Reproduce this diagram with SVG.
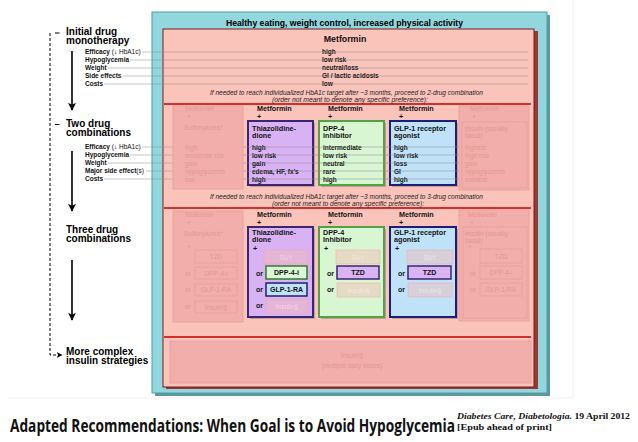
<svg xmlns="http://www.w3.org/2000/svg" width="638" height="442" viewBox="0 0 638 442">
<defs>
<marker id="ah" viewBox="0 0 10 10" refX="9" refY="5" markerWidth="8" markerHeight="8" orient="auto" markerUnits="userSpaceOnUse">
<path d="M0,0 L10,5 L0,10 L2.5,5 z" fill="#000"/>
</marker>
<marker id="ahs" viewBox="0 0 10 10" refX="9" refY="5" markerWidth="6" markerHeight="6" orient="auto" markerUnits="userSpaceOnUse">
<path d="M0,0 L10,5 L0,10 L2.5,5 z" fill="#000"/>
</marker>
</defs>
<style>
text{font-family:"Liberation Sans",Arial,sans-serif;}
text.cap{font-family:"Open Sans","Liberation Sans",sans-serif;font-weight:700;font-size:17px;fill:#111}
text.cite{font-family:"Liberation Serif","Times New Roman",serif;font-weight:bold;font-size:9px;fill:#111}
.h{font-weight:bold;font-size:10px;fill:#000}
.lab{font-size:6.5px;font-weight:bold;fill:#111}
.n{font-weight:normal}
.v{font-size:6.5px;font-weight:bold;fill:#111}
.t{font-size:7.2px;font-weight:bold;fill:#111}
.sb{font-size:7px;font-weight:bold;fill:#111}
.it{font-size:6.3px;font-style:italic;fill:#222}
.ft{font-size:6.5px;fill:#e39793}
.fbox{fill:#f2aeaa;stroke:#e9a19e;stroke-width:1}
.fin{fill:none;stroke:#e9a19e;stroke-width:1}
.fs{fill:#f5b8b4;fill-opacity:.45;stroke:#f0a8a8;stroke-opacity:.5}
.fst{font-size:6.5px;fill:#ffffff;fill-opacity:.45;text-anchor:middle}
.gl{stroke:#8a8a8a;stroke-width:0.5;fill:none}
.sep{stroke:#c00000;stroke-width:1.5}
.sh{fill:#8a6b6b;opacity:.45}
.tzd{fill:#d9b2f3;stroke:#3b2470}
.dpp{fill:#d9f6d2;stroke:#4ea443}
.glp{fill:#bfe2f9;stroke:#1c1f7a}
.c{text-anchor:middle}
</style>

<rect x="0" y="0" width="638" height="442" fill="#ffffff"/>
<path d="M573,0 V398 H8" fill="none" stroke="#f1f1f1" stroke-width="1"/>

<!-- frames -->
<g id="frame-outer">
<rect x="155" y="15" width="395" height="381" fill="#5c989e"/>
<rect x="152" y="12" width="395" height="381" fill="#91d7dd" stroke="#4f9ea5" stroke-width="1"/>
<text x="226" y="26" font-size="8.6" font-weight="bold" fill="#000" textLength="237" lengthAdjust="spacingAndGlyphs">Healthy eating, weight control, increased physical activity</text>
</g>
<g id="frame-inner">
<rect x="166" y="31" width="372" height="358" fill="#9a3833"/>
<rect x="163" y="29" width="371" height="358" fill="#fbc4bb" stroke="#7a1d1d" stroke-width="1"/>
<line class="sep" x1="164" y1="104" x2="531" y2="104"/>
<line class="sep" x1="164" y1="208" x2="531" y2="208"/>
<line class="sep" x1="164" y1="337" x2="531" y2="337"/>
</g>

<!-- left stage labels -->
<g id="stage1">
<text class="h" x="66" y="35.3">Initial drug</text>
<text class="h" x="66" y="44.3">monotherapy</text>
<text class="lab" x="85" y="54">Efficacy <tspan class="n">(↓ HbA1c)</tspan></text>
<text class="lab" x="85" y="62">Hypoglycemia</text>
<text class="lab" x="85" y="70">Weight</text>
<text class="lab" x="85" y="78">Side effects</text>
<text class="lab" x="85" y="86">Costs</text>
</g>
<g id="stage2">
<text class="h" x="66" y="126.7">Two drug</text>
<text class="h" x="66" y="135.7">combinations</text>
<text class="lab" x="85" y="149">Efficacy <tspan class="n">(↓ HbA1c)</tspan></text>
<text class="lab" x="85" y="157">Hypoglycemia</text>
<text class="lab" x="85" y="165">Weight</text>
<text class="lab" x="85" y="173">Major side effect<tspan class="n">(s)</tspan></text>
<text class="lab" x="85" y="181">Costs</text>
</g>
<g id="stage3">
<text class="h" x="66" y="233">Three drug</text>
<text class="h" x="66" y="242">combinations</text>
</g>
<g id="stage4">
<text class="h" x="66" y="355" font-size="9.5">More complex</text>
<text class="h" x="66" y="364" font-size="9.5">insulin strategies</text>
</g>

<!-- monotherapy -->
<g id="metformin-mono">
<text x="345" y="42" class="c" font-size="8.8" font-weight="bold" fill="#111">Metformin</text>
<text class="v" x="322" y="54">high</text>
<text class="v" x="322" y="62">low risk</text>
<text class="v" x="322" y="70">neutral/loss</text>
<text class="v" x="322" y="78">GI / lactic acidosis</text>
<text class="v" x="322" y="86">low</text>
</g>
<g id="note1">
<text class="it" x="210" y="94.5" textLength="273" lengthAdjust="spacingAndGlyphs">If needed to reach individualized HbA1c target after ~3 months, proceed to 2-drug combination</text>
<text class="it" x="272" y="101.5" textLength="156" lengthAdjust="spacingAndGlyphs">(order not meant to denote any specific preference):</text>
</g>

<!-- two drug colored -->
<g id="tzd2">
<text class="t" x="257" y="111">Metformin</text>
<text class="t" x="257" y="118.5">+</text>
<rect class="sh" x="250" y="123" width="65" height="64"/>
<rect class="tzd" x="248" y="121" width="65" height="64" stroke-width="2"/>
<text class="t" x="252" y="130.5">Thiazolidine-</text>
<text class="t" x="252" y="138">dione</text>
<text class="v" x="252" y="149.5">high</text>
<text class="v" x="252" y="157.5">low risk</text>
<text class="v" x="252" y="165.5">gain</text>
<text class="v" x="252" y="173.5">edema, HF, fx’s</text>
<text class="v" x="252" y="181.5">high</text>
</g>
<g id="dpp2">
<text class="t" x="328" y="111">Metformin</text>
<text class="t" x="328" y="118.5">+</text>
<rect class="sh" x="321" y="123" width="65" height="64"/>
<rect class="dpp" x="319" y="121" width="65" height="64" stroke-width="2"/>
<text class="t" x="323" y="130.5">DPP-4</text>
<text class="t" x="323" y="138">inhibitor</text>
<text class="v" x="323" y="149.5">intermediate</text>
<text class="v" x="323" y="157.5">low risk</text>
<text class="v" x="323" y="165.5">neutral</text>
<text class="v" x="323" y="173.5">rare</text>
<text class="v" x="323" y="181.5">high</text>
</g>
<g id="glp2">
<text class="t" x="399" y="111">Metformin</text>
<text class="t" x="399" y="118.5">+</text>
<rect class="sh" x="392" y="123" width="66" height="64"/>
<rect class="glp" x="390" y="121" width="66" height="64" stroke-width="2"/>
<text class="t" x="394" y="130.5">GLP-1 receptor</text>
<text class="t" x="394" y="138">agonist</text>
<text class="v" x="394" y="149.5">high</text>
<text class="v" x="394" y="157.5">low risk</text>
<text class="v" x="394" y="165.5">loss</text>
<text class="v" x="394" y="173.5">GI</text>
<text class="v" x="394" y="181.5">high</text>
</g>

<g id="note2">
<text class="it" x="210" y="198.5" textLength="273" lengthAdjust="spacingAndGlyphs">If needed to reach individualized HbA1c target after ~3 months, proceed to 3-drug combination</text>
<text class="it" x="272" y="205.5" textLength="152" lengthAdjust="spacingAndGlyphs">(order not meant to denote any specific preference):</text>
</g>

<!-- three drug colored -->
<g id="tzd3">
<text class="t" x="257" y="217">Metformin</text>
<text class="t" x="257" y="224.5">+</text>
<rect class="sh" x="250" y="229" width="65" height="90"/>
<rect class="tzd" x="248" y="227" width="65" height="90" stroke-width="2"/>
<text class="t" x="252" y="235">Thiazolidine-</text>
<text class="t" x="252" y="242.3">dione</text>
<text class="t" x="253" y="250.5">+</text>
<rect class="fs" x="264" y="250" width="44" height="14"/>
<text class="fst" x="286" y="259.5">SU†</text>
<text class="sb" x="256" y="276">or</text>
<rect x="266" y="266" width="41" height="13" fill="#dcf7d6" stroke="#2f7d24" stroke-width="1.5"/>
<text class="sb c" x="286.5" y="275.3">DPP-4-i</text>
<text class="sb" x="256" y="292">or</text>
<rect x="266" y="283" width="41" height="13" fill="#bfe2f9" stroke="#1c1f7a" stroke-width="1.5"/>
<text class="sb c" x="286.5" y="292.3">GLP-1-RA</text>
<text class="sb" x="256" y="308">or</text>
<rect class="fs" x="266" y="299" width="42" height="14"/>
<text class="fst" x="287" y="308.5">Insulin§</text>
</g>
<g id="dpp3">
<text class="t" x="328" y="217">Metformin</text>
<text class="t" x="328" y="224.5">+</text>
<rect class="sh" x="321" y="229" width="65" height="90"/>
<rect class="dpp" x="319" y="227" width="65" height="90" stroke-width="2"/>
<text class="t" x="323" y="235">DPP-4</text>
<text class="t" x="323" y="242.3">Inhibitor</text>
<text class="t" x="324" y="250.5">+</text>
<rect class="fs" x="336" y="250" width="44" height="14"/>
<text class="fst" x="358" y="259.5">SU†</text>
<text class="sb" x="327" y="276">or</text>
<rect x="337" y="266" width="42" height="13" fill="#dab3f3" stroke="#3b2470" stroke-width="1.5"/>
<text class="sb c" x="358" y="275.3">TZD</text>
<text class="sb" x="327" y="292">or</text>
<rect class="fs" x="337" y="283" width="43" height="14"/>
<text class="fst" x="358.5" y="292.5">Insulin§</text>
</g>
<g id="glp3">
<text class="t" x="399" y="217">Metformin</text>
<text class="t" x="399" y="224.5">+</text>
<rect class="sh" x="392" y="229" width="66" height="90"/>
<rect class="glp" x="390" y="227" width="66" height="90" stroke-width="2"/>
<text class="t" x="394" y="235">GLP-1 receptor</text>
<text class="t" x="394" y="242.3">agonist</text>
<text class="t" x="395" y="250.5">+</text>
<rect class="fs" x="407" y="250" width="46" height="14"/>
<text class="fst" x="430" y="259.5">SU†</text>
<text class="sb" x="398" y="276">or</text>
<rect x="408" y="266" width="43" height="13" fill="#dab3f3" stroke="#3b2470" stroke-width="1.5"/>
<text class="sb c" x="429.5" y="275.3">TZD</text>
<text class="sb" x="398" y="292">or</text>
<rect class="fs" x="408" y="283" width="44" height="14"/>
<text class="fst" x="430" y="292.5">Insulin§</text>
</g>

<!-- connectors -->
<g id="connectors">
<line class="gl" x1="142" y1="52" x2="528" y2="52"/>
<line class="gl" x1="130" y1="60" x2="528" y2="60"/>
<line class="gl" x1="108" y1="68" x2="528" y2="68"/>
<line class="gl" x1="123" y1="76" x2="528" y2="76"/>
<line class="gl" x1="104" y1="84" x2="528" y2="84"/>
<line class="gl" x1="142" y1="147" x2="528" y2="147"/>
<line class="gl" x1="130" y1="155" x2="528" y2="155"/>
<line class="gl" x1="108" y1="163" x2="528" y2="163"/>
<line class="gl" x1="146" y1="171" x2="528" y2="171"/>
<line class="gl" x1="104" y1="179" x2="528" y2="179"/>
<line x1="72" y1="51" x2="72" y2="110" stroke="#000" stroke-width="1.6" marker-end="url(#ah)"/>
<line x1="72" y1="151" x2="72" y2="211" stroke="#000" stroke-width="1.6" marker-end="url(#ah)"/>
<line x1="72" y1="260" x2="72" y2="320" stroke="#000" stroke-width="1.6" marker-end="url(#ah)"/>
<path d="M50,33 V355 H62" fill="none" stroke="#000" stroke-width="1" stroke-dasharray="3,2" marker-end="url(#ahs)"/>
<line x1="55" y1="33" x2="59.5" y2="33" stroke="#000" stroke-width="1"/>
<line x1="55" y1="124.5" x2="59.5" y2="124.5" stroke="#000" stroke-width="1"/>
</g>

<!-- faded options -->
<g id="su2">
<rect class="fbox" x="173" y="106" width="70" height="83"/>
<text class="ft" x="185" y="110.5">Metformin</text>
<text class="ft" x="187" y="118.5">+</text>
<text class="ft" x="184" y="130">Sulfonylurea*</text>
<text class="ft" x="185" y="149.5">high</text>
<text class="ft" x="185" y="157.5">moderate risk</text>
<text class="ft" x="185" y="165.5">gain</text>
<text class="ft" x="185" y="173.5">hypoglycemia</text>
<text class="ft" x="185" y="181.5">low</text>
</g>
<g id="ins2">
<rect class="fbox" x="459" y="106" width="70" height="84"/>
<rect class="fin" x="462" y="122" width="65" height="66"/>
<text class="ft" x="470" y="110.5">Metformin</text>
<text class="ft" x="472" y="118.5">+</text>
<text class="ft" x="465" y="130.5">Insulin (usually</text>
<text class="ft" x="465" y="137.5">basal)</text>
<text class="ft" x="465" y="149.5">highest</text>
<text class="ft" x="465" y="157.5">high risk</text>
<text class="ft" x="465" y="165.5">gain</text>
<text class="ft" x="465" y="173.5">hypoglycemia</text>
<text class="ft" x="465" y="181.5">variable</text>
</g>
<g id="su3">
<rect class="fbox" x="173" y="211" width="70" height="111"/>
<text class="ft" x="185" y="216.5">Metformin</text>
<text class="ft" x="187" y="224.5">+</text>
<text class="ft" x="184" y="235.5">Sulfonylurea*</text>
<text class="ft" x="187" y="249">+</text>
<rect class="fin" x="195" y="250" width="42" height="13"/>
<text class="ft c" x="216" y="259">TZD</text>
<text class="ft" x="185" y="275.5">or</text>
<rect class="fin" x="195" y="267" width="42" height="12"/>
<text class="ft c" x="216" y="275.5">DPP-4-i</text>
<text class="ft" x="185" y="292">or</text>
<rect class="fin" x="195" y="284" width="42" height="12"/>
<text class="ft c" x="216" y="292.3">GLP-1-RA</text>
<text class="ft" x="185" y="309">or</text>
<rect class="fin" x="195" y="301" width="42" height="12"/>
<text class="ft c" x="216" y="309.5">Insulin§</text>
</g>
<g id="ins3">
<rect class="fbox" x="459" y="210" width="70" height="111"/>
<rect class="fin" x="463" y="227" width="64" height="91"/>
<text class="ft" x="468" y="216.5">Metformin</text>
<text class="ft" x="470" y="224.5">+</text>
<text class="ft" x="465" y="235.5">Insulin (usually</text>
<text class="ft" x="465" y="242.5">basal)</text>
<text class="ft" x="468" y="249">+</text>
<rect class="fin" x="480" y="249" width="42" height="14"/>
<text class="ft c" x="501" y="258.5">TZD</text>
<text class="ft" x="470" y="275.5">or</text>
<rect class="fin" x="480" y="266" width="42" height="13"/>
<text class="ft c" x="501" y="275">DPP-4-i</text>
<text class="ft" x="470" y="292">or</text>
<rect class="fin" x="480" y="283" width="42" height="13"/>
<text class="ft c" x="501" y="292">GLP-1-RA</text>
</g>
<g id="insulin-multi">
<rect class="fbox" x="170" y="341" width="361" height="42"/>
<text class="ft c" x="352" y="357.5" font-size="7.5">Insulin§</text>
<text class="ft c" x="352" y="368" font-size="7.5">(multiple daily doses)</text>
</g>

<!-- caption -->
<g id="caption">
<text class="cap" x="10" y="432" textLength="445" lengthAdjust="spacingAndGlyphs">Adapted Recommendations: When Goal is to Avoid Hypoglycemia</text>
<text class="cite" x="457" y="419" textLength="173" lengthAdjust="spacingAndGlyphs"><tspan font-style="italic">Diabetes Care, Diabetologia.</tspan> 19 April 2012</text>
<text class="cite" x="457" y="430" textLength="95" lengthAdjust="spacingAndGlyphs">[Epub ahead of print]</text>
</g>
</svg>
